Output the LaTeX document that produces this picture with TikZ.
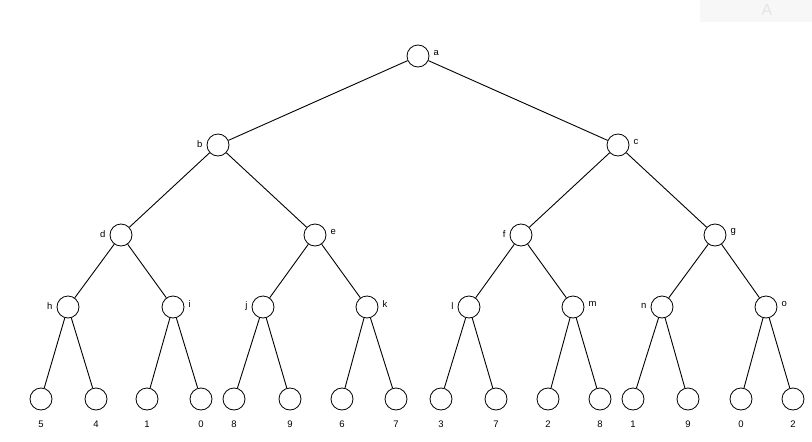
\documentclass[tikz,border=0pt]{standalone}
\usepackage{fontspec}
\setmainfont{Liberation Sans}
\begin{document}
\begin{tikzpicture}[x=1pt,y=-1pt,
  nd/.style={circle,draw,line width=0.8pt,minimum size=22pt,inner sep=0pt},
  ed/.style={line width=0.9pt},
  lr/.style={font=\fontsize{9.5}{11}\selectfont,anchor=west,xshift=12pt,yshift=3pt},
  ll/.style={font=\fontsize{9.5}{11}\selectfont,anchor=east,xshift=-12pt,yshift=1pt},
  lv/.style={font=\fontsize{9.5}{11}\selectfont}]
\useasboundingbox (0,0) rectangle (812,442);
\fill[black!3] (700,0) rectangle (812,22);
\node[text=black!10,font=\fontsize{16}{18}\selectfont] (wm) at (767,10) {A};
\foreach \n/\x/\y in {a/418/56,b/218/145,c/618/145,d/121/235,e/315/235,f/521/235,g/715/235,
  h/68/307,i/173/307,j/263/307,k/367/307,l/469/307,m/573/307,n/662/307,o/766/307}
  \node[nd] (\n) at (\x,\y) {};
\foreach \n in {a,c,e,g,i,k,m,o} \node[lr] (t\n) at (\n) {\n};
\foreach \n in {b,d,f,h,j,l,n} \node[ll] (t\n) at (\n) {\n};
\foreach \k/\x/\v in {1/41/5,2/96/4,3/147/1,4/201/0,5/234/8,6/290/9,7/342/6,8/396/7,
  9/441/3,10/496/7,11/548/2,12/600/8,13/633/1,14/688/9,15/741/0,16/793/2}{
  \node[nd] (L\k) at (\x,399) {};
  \node[lv] (V\k) at (\x,424) {\v};}
\foreach \p/\q in {a/b,a/c,b/d,b/e,c/f,c/g,d/h,d/i,e/j,e/k,f/l,f/m,g/n,g/o,
  h/L1,h/L2,i/L3,i/L4,j/L5,j/L6,k/L7,k/L8,l/L9,l/L10,m/L11,m/L12,n/L13,n/L14,o/L15,o/L16}
  \draw[ed] (\p) -- (\q);
\end{tikzpicture}
\end{document}
